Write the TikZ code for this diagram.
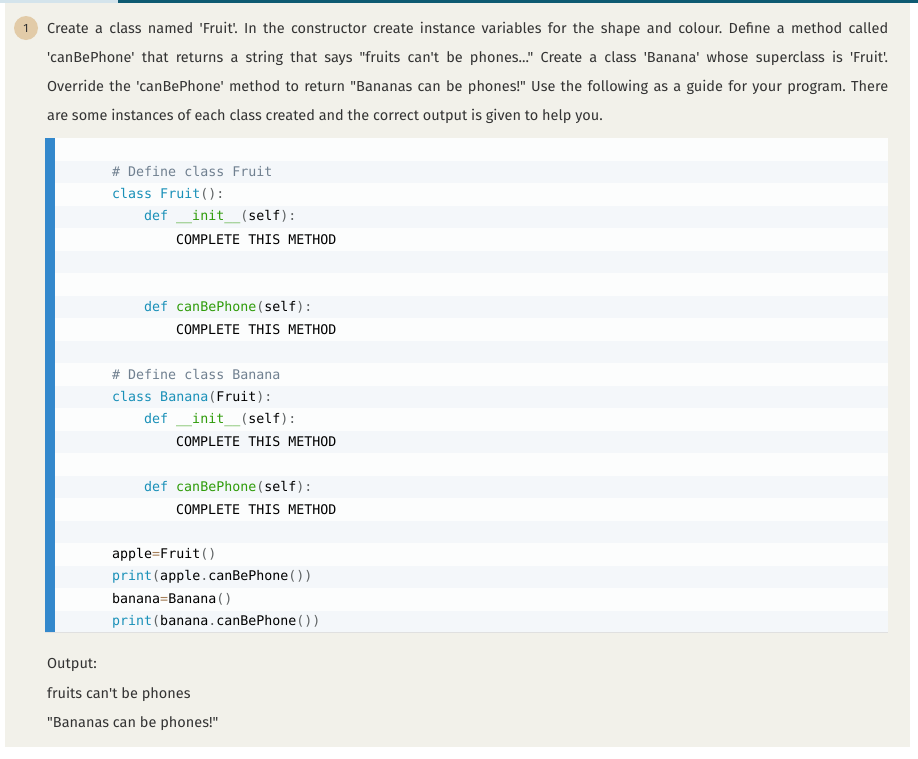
\documentclass[tikz,border=0pt]{standalone}
\usepackage{fontspec}
\setmainfont{Fira Sans}[Ligatures=TeXOff]
\setmonofont{DejaVu Sans Mono}
\frenchspacing
\definecolor{panel}{HTML}{F2F1EA}
\definecolor{barL}{HTML}{D4E4EC}
\definecolor{barD}{HTML}{0E5A72}
\definecolor{badge}{HTML}{E2CBA8}
\definecolor{txt}{HTML}{333333}
\definecolor{cbar}{HTML}{3388CC}
\definecolor{stripe}{HTML}{F4F7FA}
\definecolor{cbg}{HTML}{FCFDFD}
\definecolor{ccom}{HTML}{708090}
\definecolor{ckw}{HTML}{1990B8}
\definecolor{cfn}{HTML}{2F9C0A}
\definecolor{cpn}{HTML}{5F6364}
\definecolor{cop}{HTML}{A67F59}
\newcommand{\kw}[1]{\textcolor{ckw}{#1}}
\newcommand{\fn}[1]{\textcolor{cfn}{#1}}
\newcommand{\pn}[1]{\textcolor{cpn}{#1}}
\newcommand{\opr}[1]{\textcolor{cop}{#1}}
\begin{document}
\begin{tikzpicture}[x=1pt,y=-1pt,
  para/.style={anchor=base west,inner sep=0pt,text=txt,font=\fontsize{14.5}{16}\selectfont},
  code/.style={anchor=west,inner sep=0pt,text=black,font=\ttfamily\fontsize{13.3}{14}\selectfont}]
\useasboundingbox (0,0) rectangle (918,758);
\fill[white] (0,0) rectangle (918,758);
\fill[panel] (5,3) rectangle (910,747);
\fill[barL] (0,0) rectangle (118,3);
\fill[barD] (118,0) rectangle (918,3);
\node[circle,fill=badge,minimum size=24pt,inner sep=0pt,text=txt,font=\fontsize{12}{14}\selectfont] (badge) at (26,28) {1};
\node[para] (l1) at (47,33) {\makebox[841pt][s]{Create a class named 'Fruit'. In the constructor create instance variables for the shape and colour. Define a method called}};
\node[para] (l2) at (47,62) {\makebox[841pt][s]{'canBePhone' that returns a string that says "fruits can't be phones..." Create a class 'Banana' whose superclass is 'Fruit'.}};
\node[para] (l3) at (47,91) {\makebox[841pt][s]{Override the 'canBePhone' method to return "Bananas can be phones!" Use the following as a guide for your program. There}};
\node[para] (l4) at (47,120) {are some instances of each class created and the correct output is given to help you.};
% code box
\fill[cbg] (45,138) rectangle (888,632);
\foreach \i in {0,2,...,20} \fill[stripe] (55,{160.75+22.5*\i}) rectangle (888,{183.25+22.5*\i});
\draw[black!12] (45,632.5) -- (888,632.5);
\fill[cbar] (45,138) rectangle (55,632);
\node[code] (c0) at (112,172) {\textcolor{ccom}{\# Define class Fruit}};
\node[code] (c1) at (112,194.5) {\kw{class} \kw{Fruit}\pn{():}};
\node[code] (c2) at (144,217) {\kw{def} \fn{\_\_init\_\_}\pn{(}self\pn{):}};
\node[code] (c3) at (176,239.5) {COMPLETE THIS METHOD};
\node[code] (c6) at (144,307) {\kw{def} \fn{canBePhone}\pn{(}self\pn{):}};
\node[code] (c7) at (176,329.5) {COMPLETE THIS METHOD};
\node[code] (c9) at (112,374.5) {\textcolor{ccom}{\# Define class Banana}};
\node[code] (c10) at (112,397) {\kw{class} \kw{Banana}\pn{(}Fruit\pn{):}};
\node[code] (c11) at (144,419.5) {\kw{def} \fn{\_\_init\_\_}\pn{(}self\pn{):}};
\node[code] (c12) at (176,442) {COMPLETE THIS METHOD};
\node[code] (c14) at (144,487) {\kw{def} \fn{canBePhone}\pn{(}self\pn{):}};
\node[code] (c15) at (176,509.5) {COMPLETE THIS METHOD};
\node[code] (c17) at (112,554.5) {apple\opr{=}Fruit\pn{()}};
\node[code] (c18) at (112,577) {\kw{print}\pn{(}apple\pn{.}canBePhone\pn{())}};
\node[code] (c19) at (112,599.5) {banana\opr{=}Banana\pn{()}};
\node[code] (c20) at (112,622) {\kw{print}\pn{(}banana\pn{.}canBePhone\pn{())}};
\node[para] (o1) at (47,668) {Output:};
\node[para] (o2) at (47,698) {fruits can't be phones};
\node[para] (o3) at (47,727) {"Bananas can be phones!"};
\end{tikzpicture}
\end{document}
